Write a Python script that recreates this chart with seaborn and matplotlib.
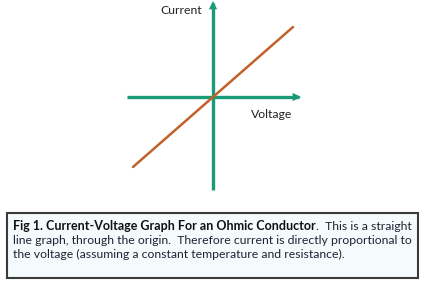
import matplotlib
matplotlib.use("Agg")
import matplotlib.pyplot as plt
import seaborn as sns
import pandas as pd
from matplotlib.patches import Rectangle

sns.set_style("white")
plt.rcParams['font.family'] = ['Lato', 'DejaVu Sans']

# Data
voltage = [-4.0, 4.0]
current = [-3.5, 3.5]
x_axis_extent = [-4.3, 4.3]
y_axis_extent = [-4.65, 4.7]
x_label = "Voltage"
y_label = "Current"
caption_bold = "Fig 1. Current-Voltage Graph For an Ohmic Conductor"
caption_rest1 = ".  This is a straight"
caption_line2 = "line graph, through the origin.  Therefore current is directly proportional to"
caption_line3 = "the voltage (assuming a constant temperature and resistance)."

GREEN = "#1b9a77"
ORANGE = "#c0622a"
W, H = 428, 282

fig = plt.figure(figsize=(W / 100, H / 100), dpi=100)
fig.patch.set_facecolor("white")
ax = fig.add_axes([113 / W, (H - 193) / H, 200 / W, 192 / H])
ax.set_xlim(-5, 5)
ax.set_ylim(-4.8, 4.8)
ax.axis("off")

# axes with arrows
ax.plot(x_axis_extent, [0, 0], color=GREEN, lw=2.4, solid_capstyle="butt", zorder=1)
ax.plot([0, 0], y_axis_extent, color=GREEN, lw=2.4, solid_capstyle="butt", zorder=1)
ax.annotate("", xy=(x_axis_extent[1] + 0.1, 0), xytext=(x_axis_extent[1] - 0.4, 0),
            arrowprops=dict(arrowstyle="-|>,head_length=0.6,head_width=0.3", color=GREEN, lw=0,
                            shrinkA=0, shrinkB=0))
ax.annotate("", xy=(0, y_axis_extent[1] + 0.1), xytext=(0, y_axis_extent[1] - 0.4),
            arrowprops=dict(arrowstyle="-|>,head_length=0.6,head_width=0.3", color=GREEN, lw=0,
                            shrinkA=0, shrinkB=0))

df = pd.DataFrame({"Voltage": voltage, "Current": current})
sns.lineplot(data=df, x="Voltage", y="Current", ax=ax, color=ORANGE, lw=1.8, zorder=2)
ax.axis("off")

ax.text(-1.6, 4.35, y_label, ha="center", va="center", fontsize=8.8, color="#222222")
ax.text(2.95, -0.85, x_label, ha="center", va="center", fontsize=8.8, color="#222222")

# Caption box
fig.patches.append(Rectangle((7 / W, (H - 278) / H), 411 / W, 65 / H, transform=fig.transFigure,
                             facecolor="#f5fbfd", edgecolor="#3a3a3a", lw=1.5, zorder=0))
fs = 8.8
t1 = fig.text(13 / W, (H - 230) / H, caption_bold, fontsize=9.0, fontweight="bold", color="#111111",
              va="baseline")
fig.canvas.draw()
bb = t1.get_window_extent(renderer=fig.canvas.get_renderer())
fig.text(bb.x1 / W, (H - 230) / H, caption_rest1, fontsize=fs, color="#222233", va="baseline")
fig.text(13 / W, (H - 244) / H, caption_line2, fontsize=fs, color="#222233", va="baseline")
fig.text(13 / W, (H - 258) / H, caption_line3, fontsize=fs, color="#222233", va="baseline")

fig.savefig("out.png", dpi=100)
